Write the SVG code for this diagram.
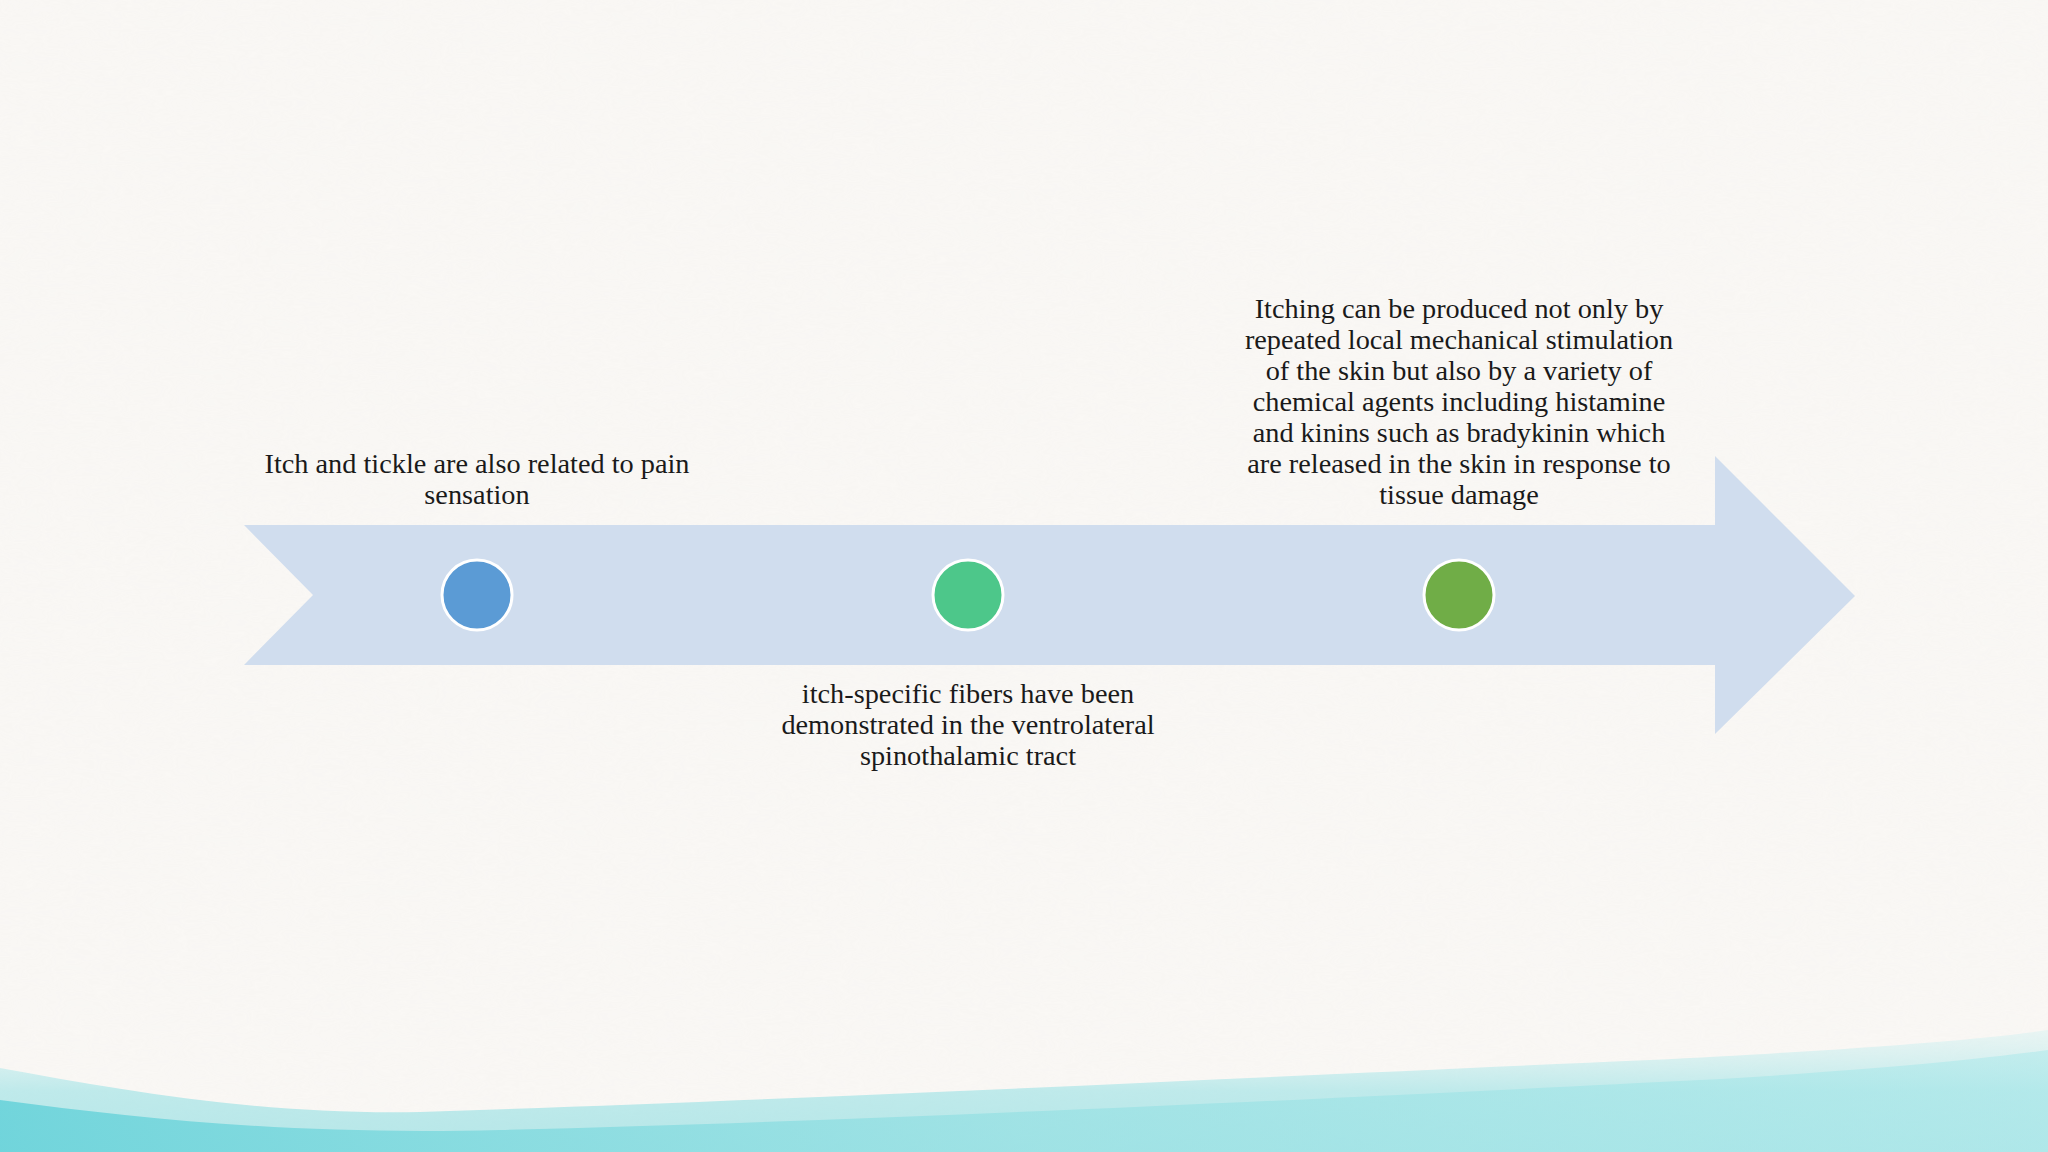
<svg xmlns="http://www.w3.org/2000/svg" width="2048" height="1152" viewBox="0 0 2048 1152">
  <defs>
    <style>
      .lbl { font-family: "Liberation Serif", "DejaVu Serif", serif; font-size: 28.3px; fill: #1a1a1a; text-anchor: middle; }
      .dot { stroke: #ffffff; stroke-width: 3; }
    </style>
    <linearGradient id="teal" x1="0" y1="0" x2="0" y2="1">
      <stop offset="0" stop-color="#bfeef0" stop-opacity="0.5"/>
      <stop offset="0.5" stop-color="#8fdfe3"/>
      <stop offset="1" stop-color="#7fd9de"/>
    </linearGradient>
    <linearGradient id="teal2" x1="0" y1="0" x2="1" y2="0">
      <stop offset="0" stop-color="#5fd0d8" stop-opacity="0.8"/>
      <stop offset="0.5" stop-color="#8fdfe2" stop-opacity="0.6"/>
      <stop offset="1" stop-color="#a8e8ea" stop-opacity="0.5"/>
    </linearGradient>
    <filter id="paper" x="0" y="0" width="100%" height="100%">
      <feTurbulence type="fractalNoise" baseFrequency="0.02 0.06" numOctaves="3" seed="4" result="n"/>
      <feColorMatrix in="n" type="matrix" values="0 0 0 0 0.9  0 0 0 0 0.9  0 0 0 0 0.9  0 0 0 0.12 0"/>
    </filter>
  </defs>

  <rect x="0" y="0" width="2048" height="1152" fill="#f9f7f4"/>
  <rect x="0" y="0" width="2048" height="1152" filter="url(#paper)" opacity="0.6"/>

  <!-- teal watercolor band -->
  <path d="M0,1068 C120,1090 260,1115 420,1112 C800,1100 1300,1075 1650,1060 C1850,1050 1980,1040 2048,1030 L2048,1152 L0,1152 Z" fill="url(#teal)" opacity="0.55"/>
  <path d="M0,1100 C150,1120 300,1135 500,1130 C900,1120 1400,1095 1700,1080 C1880,1070 1990,1058 2048,1050 L2048,1152 L0,1152 Z" fill="url(#teal2)"/>

  <g id="arrow">
    <polygon points="244,525 1715,525 1715,456 1855,596 1715,734 1715,665 244,665 313,595" fill="#d0ddee"/>
  </g>

  <g id="connectors"></g>

  <g id="node1">
    <circle class="dot" cx="477" cy="595" r="35" fill="#5b9bd5"/>
    <text class="lbl" x="477" y="473">Itch and tickle are also related to pain</text>
    <text class="lbl" x="477" y="504">sensation</text>
  </g>

  <g id="node2">
    <circle class="dot" cx="968" cy="595" r="35" fill="#4dc78a"/>
    <text class="lbl" x="968" y="703">itch-specific fibers have been</text>
    <text class="lbl" x="968" y="734">demonstrated in the ventrolateral</text>
    <text class="lbl" x="968" y="765">spinothalamic tract</text>
  </g>

  <g id="node3">
    <circle class="dot" cx="1459" cy="595" r="35" fill="#70ad47"/>
    <text class="lbl" x="1459" y="318">Itching can be produced not only by</text>
    <text class="lbl" x="1459" y="349">repeated local mechanical stimulation</text>
    <text class="lbl" x="1459" y="380">of the skin but also by a variety of</text>
    <text class="lbl" x="1459" y="411">chemical agents including histamine</text>
    <text class="lbl" x="1459" y="442">and kinins such as bradykinin which</text>
    <text class="lbl" x="1459" y="473">are released in the skin in response to</text>
    <text class="lbl" x="1459" y="504">tissue damage</text>
  </g>
</svg>
